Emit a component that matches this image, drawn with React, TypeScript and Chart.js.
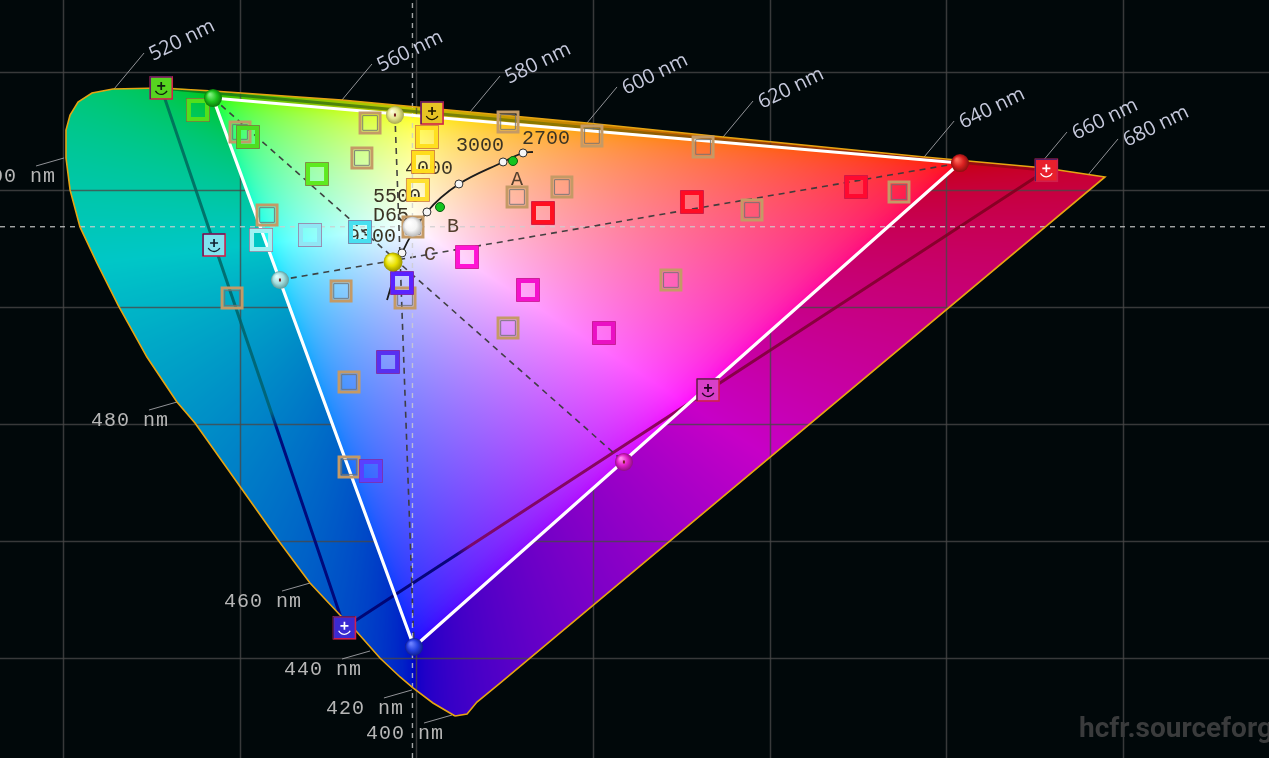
import React, { useEffect, useRef } from 'react';
import { Chart, registerables } from 'chart.js';

Chart.register(...registerables);

type P = [number, number];

const CANVAS_W = 1269;
const CANVAS_H = 758;
const BG = '#01080a';

// CIE 1976 u'v' view window
const U_RANGE: P = [-0.03566, 0.68263];
const V_RANGE: P = [0.0146, 0.66191];
const GRID_U = [0, 0.1, 0.2, 0.3, 0.4, 0.5, 0.6];
const GRID_V = [0.1, 0.2, 0.3, 0.4, 0.5, 0.6];

// spectral locus outline (u', v') as drawn
const spectralLocus: P[] = [
  [0.2219, 0.0505], [0.2094, 0.0616], [0.1981, 0.0744], [0.1908, 0.0838], [0.1794, 0.1000],
  [0.1664, 0.1222], [0.1568, 0.1367], [0.1398, 0.1640], [0.1217, 0.2008], [0.1008, 0.2452],
  [0.0747, 0.3007], [0.0645, 0.3186], [0.0475, 0.3570], [0.0311, 0.4015], [0.0192, 0.4373],
  [0.0096, 0.4681], [0.0040, 0.4997], [0.0017, 0.5270], [0.0017, 0.5509], [0.0040, 0.5637],
  [0.0085, 0.5748], [0.0164, 0.5825], [0.0283, 0.5859], [0.0549, 0.5868], [0.0849, 0.5842],
  [0.1579, 0.5765], [0.2304, 0.5663], [0.2966, 0.5569], [0.3736, 0.5449], [0.4874, 0.5278],
  [0.5558, 0.5184], [0.5898, 0.5108], [0.2474, 0.0786], [0.2343, 0.0624], [0.2287, 0.0522],
];

// measured gamut: R, G, B and Y, C, M
const measuredPrimaries: P[] = [[0.5077, 0.5227], [0.0849, 0.5782], [0.1987, 0.1094]];
const measuredSecondaries: P[] = [[0.1879, 0.5637], [0.1228, 0.4228], [0.3175, 0.2674]];
// reference gamut (BT.2020): R, G, B and Y, C, M
const targetPrimaries: P[] = [[0.5566, 0.5165], [0.0556, 0.5868], [0.1593, 0.1258]];
const targetSecondaries: P[] = [[0.2089, 0.5654], [0.0855, 0.4527], [0.3651, 0.3289]];
const whiteTarget: P = [0.1978, 0.4683];
const whiteMeasured: P = [0.1868, 0.4382];

// black body curve
const planckianCurve: P[] = [
  [0.2660, 0.5321], [0.2604, 0.5313], [0.2491, 0.5236], [0.2241, 0.5048],
  [0.2060, 0.4809], [0.1919, 0.4459], [0.1834, 0.4057],
];
const planckianMarks: P[] = [[0.2604, 0.5313], [0.2491, 0.5236], [0.2241, 0.5048], [0.2060, 0.4809], [0.1919, 0.4459]];
const illuminantMarks: P[] = [[0.2547, 0.5244], [0.2134, 0.4851]];
const cctLabels = ['2700', '3000', '4000', '5500', 'D65', '9300'];
const cctLabelAt: P[] = [[0.2598, 0.5432], [0.2224, 0.5372], [0.1936, 0.5176], [0.1755, 0.4937], [0.1755, 0.4775], [0.1613, 0.4595]];
const illumLabels = ['A', 'B', 'C'];
const illumLabelAt: P[] = [[0.2570, 0.5082], [0.2207, 0.4681], [0.2077, 0.4441]];

// wavelength marks
const topWaveLabels = ['520 nm', '560 nm', '580 nm', '600 nm', '620 nm', '640 nm', '660 nm', '680 nm'];
const topWaveAt: P[] = [[0.0289, 0.5859], [0.1579, 0.5765], [0.2304, 0.5663], [0.2966, 0.5569], [0.3736, 0.5449], [0.4874, 0.5278], [0.5513, 0.5184], [0.5802, 0.5125]];
const sideWaveLabels = ['500 nm', '480 nm', '460 nm', '440 nm', '420 nm', '400 nm'];
const sideWaveAt: P[] = [[0.0006, 0.5270], [0.0645, 0.3186], [0.1398, 0.1640], [0.1738, 0.1060], [0.1975, 0.0727], [0.2202, 0.0513]];

// colour checker: reference patches and measured patches
const referencePatches: P[] = [
  [0.1002, 0.5492], [0.1738, 0.5569], [0.1692, 0.5270], [0.1155, 0.4783], [0.0957, 0.4074],
  [0.1574, 0.4134], [0.1936, 0.4074], [0.1981, 0.4681], [0.2519, 0.5577], [0.2994, 0.5458],
  [0.2570, 0.4937], [0.2824, 0.5022], [0.2519, 0.3818], [0.3623, 0.5364], [0.3900, 0.4826],
  [0.4732, 0.4979], [0.3441, 0.4228], [0.1619, 0.3357], [0.1619, 0.2631],
];
const measuredPatches: P[] = [
  [0.0764, 0.5680], [0.1047, 0.5449], [0.1438, 0.5133], [0.2060, 0.5449], [0.2038, 0.5236],
  [0.2009, 0.4997], [0.1121, 0.4570], [0.1398, 0.4612], [0.1681, 0.4638], [0.2287, 0.4424],
  [0.2632, 0.4143], [0.3062, 0.3775], [0.2717, 0.4800], [0.3560, 0.4894], [0.4489, 0.5022],
  [0.1919, 0.4202], [0.1840, 0.3528], [0.1743, 0.2597],
];
const measuredPatchColors = [
  '#52e01c', '#4ede22', '#5eea20', '#ffe020', '#ffdc1c', '#ffe030', '#a0f2f2', '#90e6f4', '#48e0f0',
  '#ff14d4', '#f412cc', '#ea10c4', '#ff1020', '#ff0c24', '#ff0a30', '#5a22ff', '#5830f0', '#5a40ff',
];

const OUT_DIM = 0.78;

const pt = (a: P) => ({ x: a[0], y: a[1] });

function inv3(m: number[][]): number[][] {
  const [a, b, c] = m[0];
  const [d, e, f] = m[1];
  const [g, h, i] = m[2];
  const A = e * i - f * h, B = -(d * i - f * g), C = d * h - e * g;
  const det = a * A + b * B + c * C;
  return [
    [A / det, -(b * i - c * h) / det, (b * f - c * e) / det],
    [B / det, (a * i - c * g) / det, -(a * f - c * d) / det],
    [C / det, -(a * h - b * g) / det, (a * e - b * d) / det],
  ];
}

function uvToXYZ(p: P): number[] {
  const [u, v] = p;
  return [(9 * u) / (4 * v), 1, (12 - 3 * u - 20 * v) / (4 * v)];
}

function rgbMatrixInverse(prims: P[], white: P): number[][] {
  const cols = prims.map(uvToXYZ);
  const m = [0, 1, 2].map((r) => [cols[0][r], cols[1][r], cols[2][r]]);
  const mi = inv3(m);
  const w = uvToXYZ(white);
  const s = [0, 1, 2].map((r) => mi[r][0] * w[0] + mi[r][1] * w[1] + mi[r][2] * w[2]);
  const M = m.map((row) => row.map((val, c) => val * s[c]));
  return inv3(M);
}

const chromaPlugin = {
  id: 'chroma',
  beforeDraw(chart: any) {
    const ctx = chart.ctx as CanvasRenderingContext2D;
    ctx.save();
    ctx.fillStyle = BG;
    ctx.fillRect(0, 0, chart.width, chart.height);
    ctx.restore();
  },
  beforeDatasetsDraw(chart: any) {
    const ctx = chart.ctx as CanvasRenderingContext2D;
    const xs = chart.scales.x;
    const ys = chart.scales.y;
    const toPx = (p: P): P => [xs.getPixelForValue(p[0]), ys.getPixelForValue(p[1])];
    const w = chart.width, h = chart.height;

    // ---- colour fill of the locus
    const locPx = spectralLocus.map(toPx);
    let x0 = w, x1 = 0, y0 = h, y1 = 0;
    locPx.forEach(([x, y]) => { x0 = Math.min(x0, x); x1 = Math.max(x1, x); y0 = Math.min(y0, y); y1 = Math.max(y1, y); });
    x0 = Math.max(0, Math.floor(x0) - 2); x1 = Math.min(w - 1, Math.ceil(x1) + 2);
    y0 = Math.max(0, Math.floor(y0) - 2); y1 = Math.min(h - 1, Math.ceil(y1) + 2);
    const off = document.createElement('canvas');
    off.width = w; off.height = h;
    const octx = off.getContext('2d')!;
    const img = octx.createImageData(w, h);
    const data = img.data;
    const mi = rgbMatrixInverse(measuredPrimaries, whiteTarget);
    const lut = new Uint8Array(1024);
    for (let i = 0; i < 1024; i++) lut[i] = Math.round(255 * Math.pow(i / 1023, 1 / 2.2));
    const u0 = xs.getValueForPixel(0.5);
    const du = xs.getValueForPixel(1.5) - u0;
    const v0 = ys.getValueForPixel(0.5);
    const dv = ys.getValueForPixel(1.5) - v0;
    for (let py = y0; py <= y1; py++) {
      const v = v0 + py * dv;
      if (v <= 0.001) continue;
      for (let px = x0; px <= x1; px++) {
        const u = u0 + px * du;
        const X = 9 * u, Y = 4 * v, Z = 12 - 3 * u - 20 * v;
        let r = mi[0][0] * X + mi[0][1] * Y + mi[0][2] * Z;
        let g = mi[1][0] * X + mi[1][1] * Y + mi[1][2] * Z;
        let b = mi[2][0] * X + mi[2][1] * Y + mi[2][2] * Z;
        const mn = Math.min(r, g, b);
        const inside = mn >= 0;
        if (!inside) { r -= mn; g -= mn; b -= mn; }
        const mx = Math.max(r, g, b) || 1;
        const k = inside ? 1 : OUT_DIM;
        const idx = (py * w + px) * 4;
        data[idx] = lut[Math.min(1023, (r / mx * 1023) | 0)] * k;
        data[idx + 1] = lut[Math.min(1023, (g / mx * 1023) | 0)] * k;
        data[idx + 2] = lut[Math.min(1023, (b / mx * 1023) | 0)] * k;
        data[idx + 3] = 255;
      }
    }
    octx.putImageData(img, 0, 0);
    ctx.save();
    ctx.beginPath();
    locPx.forEach(([x, y], i) => (i ? ctx.lineTo(x, y) : ctx.moveTo(x, y)));
    ctx.closePath();
    ctx.clip();
    ctx.drawImage(off, 0, 0);
    ctx.restore();

    // ---- grid (hidden inside measured gamut)
    const tri = measuredPrimaries.map(toPx);
    ctx.save();
    ctx.beginPath();
    ctx.rect(0, 0, w, h);
    ctx.moveTo(tri[0][0], tri[0][1]);
    ctx.lineTo(tri[1][0], tri[1][1]);
    ctx.lineTo(tri[2][0], tri[2][1]);
    ctx.closePath();
    ctx.clip('evenodd');
    ctx.strokeStyle = 'rgba(72,72,72,0.78)';
    ctx.lineWidth = 1.5;
    GRID_U.forEach((u) => {
      const x = Math.round(xs.getPixelForValue(u)) + 0.5;
      ctx.beginPath(); ctx.moveTo(x, 0); ctx.lineTo(x, h); ctx.stroke();
    });
    GRID_V.forEach((v) => {
      const y = Math.round(ys.getPixelForValue(v)) + 0.5;
      ctx.beginPath(); ctx.moveTo(0, y); ctx.lineTo(w, y); ctx.stroke();
    });
    ctx.restore();

    // ---- reference gamut triangle (dark gradient lines)
    const tp = targetPrimaries.map(toPx);
    const seg = (a: P, b: P, stops: [number, string][]) => {
      const gr = ctx.createLinearGradient(a[0], a[1], b[0], b[1]);
      stops.forEach(([o, c]) => gr.addColorStop(o, c));
      ctx.strokeStyle = gr;
      ctx.beginPath(); ctx.moveTo(a[0], a[1]); ctx.lineTo(b[0], b[1]); ctx.stroke();
    };
    ctx.save();
    ctx.lineWidth = 3;
    ctx.lineCap = 'round';
    seg(tp[1], tp[2], [[0, 'rgba(0,105,85,0.85)'], [0.6, 'rgba(0,95,110,0.85)'], [0.63, 'rgba(0,0,115,0.9)'], [1, 'rgba(0,0,115,0.9)']]);
    seg(tp[2], tp[0], [[0, 'rgba(0,0,110,0.9)'], [0.16, 'rgba(0,0,110,0.9)'], [0.18, 'rgba(125,0,80,0.85)'], [1, 'rgba(125,0,25,0.85)']]);
    seg(tp[1], tp[0], [[0, 'rgba(0,110,30,0.8)'], [0.45, 'rgba(120,110,0,0.7)'], [1, 'rgba(140,0,20,0.8)']]);
    ctx.restore();

    // ---- wavelength ticks & labels
    ctx.save();
    ctx.strokeStyle = 'rgba(170,170,175,0.85)';
    ctx.lineWidth = 1;
    ctx.fillStyle = '#c6c9dc';
    ctx.font = '20px "Open Sans", sans-serif';
    ctx.textAlign = 'left';
    ctx.textBaseline = 'alphabetic';
    topWaveAt.forEach((p, i) => {
      const [x, y] = toPx(p);
      const ex = x + 30, ey = y - 36;
      ctx.beginPath(); ctx.moveTo(x, y); ctx.lineTo(ex, ey); ctx.stroke();
      ctx.save();
      ctx.translate(ex + 9, ey + 8);
      ctx.rotate(-26 * Math.PI / 180);
      ctx.fillText(topWaveLabels[i], 0, 0);
      ctx.restore();
    });
    ctx.fillStyle = '#b6b6b6';
    ctx.font = '20px "Liberation Mono", monospace';
    (ctx as any).letterSpacing = '1px';
    ctx.textAlign = 'right';
    ctx.textBaseline = 'middle';
    sideWaveAt.forEach((p, i) => {
      const [x, y] = toPx(p);
      const ex = x - 28, ey = y + 8;
      ctx.beginPath(); ctx.moveTo(x, y); ctx.lineTo(ex, ey); ctx.stroke();
      ctx.fillText(sideWaveLabels[i], ex + 20, ey + 11);
    });
    (ctx as any).letterSpacing = '0px';
    ctx.restore();

    // ---- black body labels
    ctx.save();
    ctx.font = '20px "Liberation Mono", monospace';
    ctx.fillStyle = '#3b3424';
    ctx.textAlign = 'left';
    ctx.textBaseline = 'middle';
    cctLabelAt.forEach((p, i) => {
      const [x, y] = toPx(p);
      ctx.fillText(cctLabels[i], x, y);
    });
    ctx.textAlign = 'center';
    ctx.fillStyle = '#54402e';
    illumLabelAt.forEach((p, i) => {
      const [x, y] = toPx(p);
      ctx.fillText(illumLabels[i], x, y);
    });
    ctx.restore();
  },
  afterDatasetsDraw(chart: any) {
    const ctx = chart.ctx as CanvasRenderingContext2D;
    const xs = chart.scales.x;
    const ys = chart.scales.y;
    const toPx = (p: P): P => [xs.getPixelForValue(p[0]), ys.getPixelForValue(p[1])];

    // reference gamut markers (squares with a cross)
    const markFill = [...['#e8202c', '#56d420', '#3a2ad2'], ...['#e6c424', '#80e2ee', '#d840c8']];
    const markInk = ['#ffffff', '#102010', '#ffffff', '#201a00', '#102030', '#200020'];
    [...targetPrimaries, ...targetSecondaries].forEach((p, i) => {
      const [x, y] = toPx(p);
      const s = 11;
      ctx.save();
      ctx.fillStyle = markFill[i];
      ctx.fillRect(x - s, y - s, 2 * s, 2 * s);
      ctx.lineWidth = 1.6;
      ctx.strokeStyle = '#d0204c';
      ctx.strokeRect(x - s, y - s, 2 * s, 2 * s);
      ctx.strokeStyle = 'rgba(30,30,110,0.9)';
      ctx.lineWidth = 1;
      ctx.beginPath(); ctx.moveTo(x - s, y + s); ctx.lineTo(x - s, y - s); ctx.lineTo(x + s, y - s); ctx.stroke();
      ctx.strokeStyle = markInk[i];
      ctx.lineWidth = 1.7;
      ctx.beginPath();
      ctx.moveTo(x - 4, y - 2); ctx.lineTo(x + 4, y - 2);
      ctx.moveTo(x, y - 6); ctx.lineTo(x, y + 2);
      ctx.stroke();
      ctx.lineWidth = 1.3;
      ctx.beginPath();
      ctx.arc(x, y, 6.5, 0.15 * Math.PI, 0.85 * Math.PI);
      ctx.stroke();
      ctx.restore();
    });

    // spheres: primaries, secondaries, whites
    const sphere = (p: P, r: number, c: [string, string, string], dot: boolean) => {
      const [x, y] = toPx(p);
      ctx.save();
      const g = ctx.createRadialGradient(x - r * 0.35, y - r * 0.4, r * 0.1, x, y, r);
      g.addColorStop(0, c[0]);
      g.addColorStop(0.55, c[1]);
      g.addColorStop(1, c[2]);
      ctx.fillStyle = g;
      ctx.beginPath(); ctx.arc(x, y, r, 0, Math.PI * 2); ctx.fill();
      if (dot) {
        ctx.fillStyle = '#7a2020';
        ctx.fillRect(x - 1, y - 1.5, 2, 3);
      }
      ctx.restore();
    };
    const primCols: [string, string, string][] = [
      ['#ff6a5a', '#d82020', '#8a1010'],
      ['#80f080', '#1cc41c', '#0a7a0a'],
      ['#6a80ff', '#2440e0', '#101e90'],
    ];
    const secCols: [string, string, string][] = [
      ['#fbfbd8', '#e4e48c', '#a8a850'],
      ['#e0fafa', '#a4e0e0', '#5e9a9a'],
      ['#ff8af0', '#e020c8', '#901080'],
    ];
    measuredPrimaries.forEach((p, i) => sphere(p, 9, primCols[i], false));
    measuredSecondaries.forEach((p, i) => sphere(p, 9, secCols[i], true));
    sphere(whiteTarget, 10, ['#ffffff', '#f4f4f4', '#b8b8b8'], false);
    sphere(whiteMeasured, 9.5, ['#ffff90', '#e8e000', '#9a9400'], false);

    // watermark
    ctx.save();
    ctx.font = 'bold 28px Roboto, sans-serif';
    ctx.fillStyle = '#3a3b3c';
    ctx.textAlign = 'left';
    ctx.textBaseline = 'alphabetic';
    ctx.fillText('hcfr.sourceforge.net', 1079, 737);
    ctx.restore();
  },
};

function lineDs(points: P[], color: string, width: number, order: number, extra: any = {}) {
  return {
    data: points.map(pt),
    showLine: true,
    borderColor: color,
    borderWidth: width,
    pointRadius: 0,
    fill: false,
    order,
    ...extra,
  };
}

function buildConfig(): any {
  const datasets: any[] = [
    // primary -> secondary dashed lines
    lineDs([measuredPrimaries[1], measuredSecondaries[2]], 'rgba(58,58,58,0.95)', 1.6, 100, { borderDash: [6, 5] }),
    lineDs([measuredSecondaries[1], measuredPrimaries[0]], 'rgba(58,58,58,0.95)', 1.6, 100, { borderDash: [6, 5] }),
    lineDs([measuredSecondaries[0], measuredPrimaries[2]], 'rgba(58,58,58,0.95)', 1.6, 100, { borderDash: [6, 5] }),
    // white point cross hair
    lineDs([[U_RANGE[0], whiteTarget[1]], [U_RANGE[1], whiteTarget[1]]], 'rgba(205,205,205,0.8)', 1.4, 95, { borderDash: [5, 5] }),
    lineDs([[whiteTarget[0], V_RANGE[0]], [whiteTarget[0], V_RANGE[1]]], 'rgba(205,205,205,0.8)', 1.4, 95, { borderDash: [5, 5] }),
    // spectral locus outline
    lineDs([...spectralLocus, spectralLocus[0]], '#e6a412', 1.6, 90),
    // measured gamut triangle
    lineDs([...measuredPrimaries, measuredPrimaries[0]], '#ffffff', 3.2, 80, { borderJoinStyle: 'round' }),
    // black body curve
    lineDs(planckianCurve, '#1c1c1c', 1.8, 70, { tension: 0.35 }),
    {
      data: planckianMarks.map(pt), pointRadius: 4, pointBackgroundColor: '#f6f6f6',
      pointBorderColor: '#303030', pointBorderWidth: 1, order: 66,
    },
    {
      data: illuminantMarks.map(pt), pointRadius: 4.5, pointBackgroundColor: '#12c41e',
      pointBorderColor: '#0a5a10', pointBorderWidth: 1, order: 65,
    },
    // reference patches (beveled tan squares)
    {
      data: referencePatches.map(pt), pointStyle: 'rect', pointRadius: 14.1,
      pointBackgroundColor: 'rgba(0,0,0,0)', pointBorderColor: '#c49a66', pointBorderWidth: 3, order: 60,
    },
    {
      data: referencePatches.map(pt), pointStyle: 'rect', pointRadius: 10.4,
      pointBackgroundColor: 'rgba(0,0,0,0)', pointBorderColor: 'rgba(115,115,115,0.9)', pointBorderWidth: 1, order: 59,
    },
    // measured patches
    {
      data: measuredPatches.map(pt), pointStyle: 'rect', pointRadius: 16.2,
      pointBackgroundColor: 'rgba(0,0,0,0)', pointBorderColor: 'rgba(160,30,90,0.9)', pointBorderWidth: 1, order: 50,
    },
    {
      data: measuredPatches.map(pt), pointStyle: 'rect', pointRadius: 13.1,
      pointBackgroundColor: 'rgba(0,0,0,0)', pointBorderColor: measuredPatchColors, pointBorderWidth: 4.5, order: 49,
    },
  ];
  return {
    type: 'scatter',
    data: { datasets },
    options: {
      responsive: false,
      maintainAspectRatio: false,
      animation: false,
      devicePixelRatio: 1,
      events: [],
      layout: { padding: 0, autoPadding: false },
      plugins: { legend: { display: false }, tooltip: { enabled: false }, title: { display: false } },
      scales: {
        x: { type: 'linear', min: U_RANGE[0], max: U_RANGE[1], display: false },
        y: { type: 'linear', min: V_RANGE[0], max: V_RANGE[1], display: false },
      },
    },
    plugins: [chromaPlugin],
  };
}

export default function App() {
  const canvasRef = useRef<HTMLCanvasElement | null>(null);
  useEffect(() => {
    const prevMargin = document.body.style.margin;
    const prevBg = document.body.style.background;
    document.body.style.margin = '0';
    document.body.style.background = BG;
    const canvas = canvasRef.current;
    if (!canvas) return;
    const chart = new Chart(canvas, buildConfig());
    return () => {
      chart.destroy();
      document.body.style.margin = prevMargin;
      document.body.style.background = prevBg;
    };
  }, []);
  return (
    <div style={{ position: 'fixed', left: 0, top: 0, width: CANVAS_W, height: CANVAS_H, overflow: 'hidden', background: BG }}>
      <canvas ref={canvasRef} width={CANVAS_W} height={CANVAS_H} style={{ display: 'block', width: CANVAS_W, height: CANVAS_H }} />
    </div>
  );
}
